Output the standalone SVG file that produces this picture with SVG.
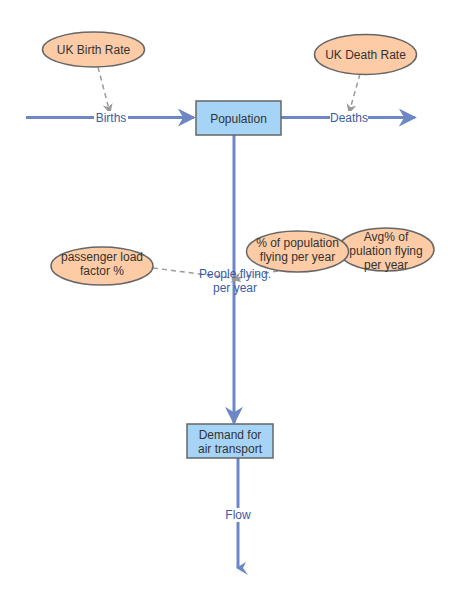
<svg xmlns="http://www.w3.org/2000/svg" width="452" height="600" viewBox="0 0 452 600">
<style>
.aux ellipse{fill:#FDCBA6;stroke:#666;stroke-width:1.5}
.stock rect{fill:#A6D4F7;stroke:#666;stroke-width:1.5}
text{font-family:"Liberation Sans",Arial,sans-serif;font-size:12px;text-anchor:middle}
.nt{fill:#333}
.ft{fill:#3B5BA5}
.flow{stroke:#6D87C4;stroke-width:3;fill:none}
.link{stroke:#999;stroke-width:1.5;stroke-dasharray:5,4;fill:none}
</style>
<defs>
<marker id="fa" viewBox="0 0 10 10" refX="9" refY="5" markerWidth="7" markerHeight="7" markerUnits="userSpaceOnUse" orient="auto">
<path d="M0,0 L10,5 L0,10 L3,5 Z" fill="#6D87C4"/>
</marker>
<marker id="fb" viewBox="0 0 10 10" refX="9" refY="5" markerWidth="18" markerHeight="18" markerUnits="userSpaceOnUse" orient="auto">
<path d="M0,0 L10,5 L0,10 L3,5 Z" fill="#6D87C4"/>
</marker>
<marker id="la" viewBox="0 0 10 10" refX="9" refY="5" markerWidth="10" markerHeight="10" markerUnits="userSpaceOnUse" orient="auto">
<path d="M0,0 L10,5 L0,10 L3,5 Z" fill="#999"/>
</marker>
</defs>
<g id="connectors">
<line class="flow" x1="26" y1="117.5" x2="194" y2="117.5" marker-end="url(#fb)"/>
<line class="flow" x1="281" y1="117.5" x2="415" y2="117.5" marker-end="url(#fb)"/>
<line class="flow" x1="234" y1="135" x2="234" y2="423" marker-end="url(#fb)"/>
<line class="flow" x1="238" y1="458" x2="238" y2="568"/>
<polygon points="236,568 246,562 243,568 248,575" fill="#6D87C4"/>
<line class="link" x1="98" y1="67" x2="110" y2="113" marker-end="url(#la)"/>
<line class="link" x1="360" y1="74" x2="349" y2="113" marker-end="url(#la)"/>
<line class="link" x1="153" y1="268" x2="240" y2="279" marker-end="url(#la)"/>
<line class="link" x1="278" y1="271" x2="232" y2="279" marker-end="url(#la)"/>
</g>
<g id="births-label"><rect x="94" y="111" width="34" height="13" fill="#fff"/><text class="ft" x="111" y="122">Births</text></g>
<g id="deaths-label"><rect x="330" y="111" width="38" height="13" fill="#fff"/><text class="ft" x="349" y="122">Deaths</text></g>
<g id="uk-birth-rate" class="aux"><ellipse cx="93.5" cy="49.5" rx="51" ry="17.5"/><text class="nt" x="93.5" y="53.5">UK Birth Rate</text></g>
<g id="uk-death-rate" class="aux"><ellipse cx="365.5" cy="54.5" rx="51" ry="20"/><text class="nt" x="365.5" y="58.5">UK Death Rate</text></g>
<g id="population" class="stock"><rect x="196" y="101" width="85" height="34"/><text class="nt" x="238.5" y="122.5">Population</text></g>
<g id="demand" class="stock"><rect x="187" y="424" width="86" height="34"/><text class="nt" x="230" y="438.5">Demand for</text><text class="nt" x="230" y="452.5">air transport</text></g>
<g id="passenger-load-factor" class="aux"><ellipse cx="102" cy="266" rx="51" ry="19"/><text class="nt" x="102" y="261">passenger load</text><text class="nt" x="102" y="275">factor %</text></g>
<g id="avg-pct" class="aux"><ellipse cx="386" cy="249.5" rx="48" ry="21.5"/><text class="nt" x="386" y="241">Avg% of</text><text class="nt" x="386" y="255">pulation flying</text><text class="nt" x="386" y="269">per year</text></g>
<g id="pct-population" class="aux"><ellipse cx="297.5" cy="251.5" rx="51" ry="20.5"/><text class="nt" x="297.5" y="247">% of population</text><text class="nt" x="297.5" y="261">flying per year</text></g>
<g id="people-flying-label"><text class="ft" x="235" y="278">People flying.</text><text class="ft" x="235" y="292">per year</text></g>
<g id="flow-label"><rect x="224" y="508" width="28" height="14" fill="#fff"/><text class="ft" x="238" y="519">Flow</text></g>
</svg>
